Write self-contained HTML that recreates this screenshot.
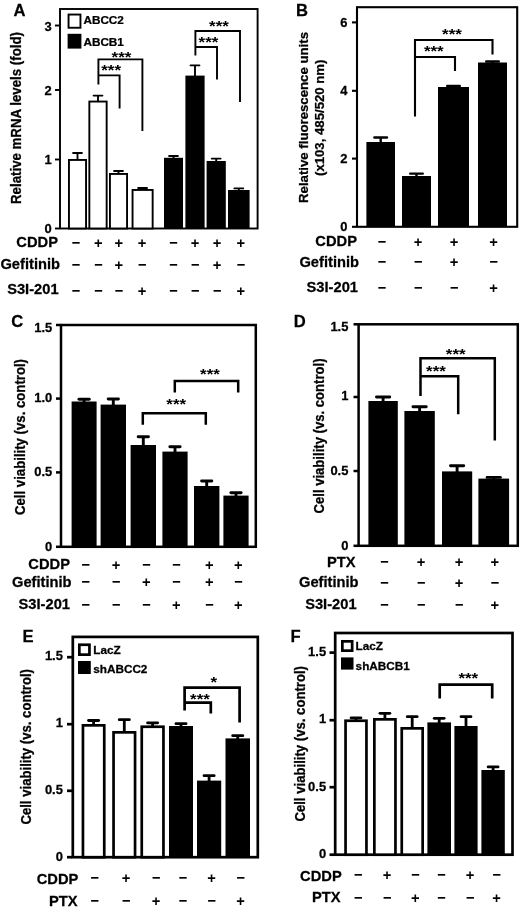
<!DOCTYPE html>
<html lang="en"><head><meta charset="utf-8"><title>Figure</title>
<style>html,body{margin:0;padding:0;background:#fff}svg{display:block}text{stroke:#000;stroke-width:.25px}text.s{stroke:none}</style></head><body>
<svg width="520" height="910" viewBox="0 0 520 910" font-family="&quot;Liberation Sans&quot;, Arial, Helvetica, sans-serif" font-weight="bold" fill="#000">
<rect width="520" height="910" fill="#fff"/>
<g id="panelA">
<text transform="translate(13.5,16) scale(0.96,1)" font-size="17.3" text-anchor="start">A</text>
<rect x="60" y="9" width="197.6" height="219.5" fill="none" stroke="#000" stroke-width="1.9"/>
<line x1="55" y1="25.5" x2="59.5" y2="25.5" stroke="#000" stroke-width="1.9"/>
<text transform="translate(51.7,30.7) scale(1.08,1)" font-size="12" text-anchor="end">3</text>
<line x1="55" y1="90" x2="59.5" y2="90" stroke="#000" stroke-width="1.9"/>
<text transform="translate(51.7,94.7) scale(1.08,1)" font-size="12" text-anchor="end">2</text>
<line x1="55" y1="159.5" x2="59.5" y2="159.5" stroke="#000" stroke-width="1.9"/>
<text transform="translate(51.7,163.7) scale(1.08,1)" font-size="12" text-anchor="end">1</text>
<line x1="55" y1="228.5" x2="59.5" y2="228.5" stroke="#000" stroke-width="1.9"/>
<text transform="translate(51.7,232.7) scale(1.08,1)" font-size="12" text-anchor="end">0</text>
<text transform="translate(21.4,118) rotate(-90) scale(1,1.1)" font-size="12.5" text-anchor="middle" textLength="172" lengthAdjust="spacingAndGlyphs">Relative mRNA levels (fold)</text>
<rect x="68.55" y="14.55" width="11.9" height="13.2" fill="#fff" stroke="#000" stroke-width="1.9"/>
<rect x="67.6" y="33.8" width="13.8" height="14.8" fill="#000"/>
<text transform="translate(83.4,23.7) scale(1.11,1)" font-size="10.6" text-anchor="start">ABCC2</text>
<text transform="translate(83.4,45.7) scale(1.11,1)" font-size="10.6" text-anchor="start">ABCB1</text>
<line x1="77.5" y1="153" x2="77.5" y2="160" stroke="#000" stroke-width="1.9"/>
<line x1="73.07" y1="153" x2="81.93" y2="153" stroke="#000" stroke-width="1.9" stroke-linecap="round"/>
<rect x="68.95" y="159.95" width="17.1" height="68.55" fill="#fff" stroke="#000" stroke-width="1.9"/>
<line x1="98" y1="95.6" x2="98" y2="101.6" stroke="#000" stroke-width="1.9"/>
<line x1="93.57" y1="95.6" x2="102.43" y2="95.6" stroke="#000" stroke-width="1.9" stroke-linecap="round"/>
<rect x="89.35" y="101.55" width="17.3" height="126.95" fill="#fff" stroke="#000" stroke-width="1.9"/>
<line x1="118.5" y1="171" x2="118.5" y2="174" stroke="#000" stroke-width="1.9"/>
<line x1="114.07" y1="171" x2="122.93" y2="171" stroke="#000" stroke-width="1.9" stroke-linecap="round"/>
<rect x="109.95" y="173.95" width="17.1" height="54.55" fill="#fff" stroke="#000" stroke-width="1.9"/>
<line x1="142.6" y1="188" x2="142.6" y2="190" stroke="#000" stroke-width="1.9"/>
<line x1="138.17" y1="188" x2="147.03" y2="188" stroke="#000" stroke-width="1.9" stroke-linecap="round"/>
<rect x="132.55" y="189.95" width="20.1" height="38.55" fill="#fff" stroke="#000" stroke-width="1.9"/>
<line x1="173.5" y1="156" x2="173.5" y2="158.8" stroke="#000" stroke-width="1.9"/>
<line x1="169.07" y1="156" x2="177.93" y2="156" stroke="#000" stroke-width="1.9" stroke-linecap="round"/>
<rect x="164" y="157.8" width="19" height="70.7" fill="#000"/>
<line x1="195" y1="65.4" x2="195" y2="76.6" stroke="#000" stroke-width="1.9"/>
<line x1="190.57" y1="65.4" x2="199.43" y2="65.4" stroke="#000" stroke-width="1.9" stroke-linecap="round"/>
<rect x="185.4" y="75.6" width="19.2" height="152.9" fill="#000"/>
<line x1="216.2" y1="158.6" x2="216.2" y2="162" stroke="#000" stroke-width="1.9"/>
<line x1="211.77" y1="158.6" x2="220.63" y2="158.6" stroke="#000" stroke-width="1.9" stroke-linecap="round"/>
<rect x="206.6" y="161" width="19.2" height="67.5" fill="#000"/>
<line x1="238.8" y1="188.4" x2="238.8" y2="191" stroke="#000" stroke-width="1.9"/>
<line x1="234.37" y1="188.4" x2="243.23" y2="188.4" stroke="#000" stroke-width="1.9" stroke-linecap="round"/>
<rect x="228" y="190" width="21.6" height="38.5" fill="#000"/>
<polyline points="98.4,84.4 98.4,59.4 142.4,59.4 142.4,131" fill="none" stroke="#000" stroke-width="1.9" stroke-linejoin="miter"/>
<text class="s" transform="translate(121.5,61.8) scale(1.11,1)" font-size="15.3" text-anchor="middle">***</text>
<polyline points="98.4,75.4 98.4,75.4 119.6,75.4 119.6,108.6" fill="none" stroke="#000" stroke-width="1.9" stroke-linejoin="miter"/>
<text class="s" transform="translate(111.1,74.6) scale(1.11,1)" font-size="15.3" text-anchor="middle">***</text>
<polyline points="195.4,55.6 195.4,31 240,31 240,102" fill="none" stroke="#000" stroke-width="1.9" stroke-linejoin="miter"/>
<text class="s" transform="translate(219,31.2) scale(1.11,1)" font-size="15.3" text-anchor="middle">***</text>
<polyline points="195.4,47 195.4,47 217,47 217,79.6" fill="none" stroke="#000" stroke-width="1.9" stroke-linejoin="miter"/>
<text class="s" transform="translate(208.5,47.2) scale(1.11,1)" font-size="15.3" text-anchor="middle">***</text>
<text transform="translate(58,247) scale(1.05,1)" font-size="14" text-anchor="end">CDDP</text>
<text class="s" transform="translate(75.8,247.75) scale(0.95,1)" font-size="15.5" text-anchor="middle">−</text>
<text class="s" transform="translate(98.2,247.75) scale(0.95,1)" font-size="15.5" text-anchor="middle">+</text>
<text class="s" transform="translate(118.8,247.75) scale(0.95,1)" font-size="15.5" text-anchor="middle">+</text>
<text class="s" transform="translate(142,247.75) scale(0.95,1)" font-size="15.5" text-anchor="middle">+</text>
<text class="s" transform="translate(173.4,247.75) scale(0.95,1)" font-size="15.5" text-anchor="middle">−</text>
<text class="s" transform="translate(195,247.75) scale(0.95,1)" font-size="15.5" text-anchor="middle">+</text>
<text class="s" transform="translate(217,247.75) scale(0.95,1)" font-size="15.5" text-anchor="middle">+</text>
<text class="s" transform="translate(240.8,247.75) scale(0.95,1)" font-size="15.5" text-anchor="middle">+</text>
<text transform="translate(60,269) scale(1.05,1)" font-size="14" text-anchor="end">Gefitinib</text>
<text class="s" transform="translate(75.8,269.95) scale(0.95,1)" font-size="15.5" text-anchor="middle">−</text>
<text class="s" transform="translate(98.2,269.95) scale(0.95,1)" font-size="15.5" text-anchor="middle">−</text>
<text class="s" transform="translate(118.8,269.95) scale(0.95,1)" font-size="15.5" text-anchor="middle">+</text>
<text class="s" transform="translate(142,269.95) scale(0.95,1)" font-size="15.5" text-anchor="middle">−</text>
<text class="s" transform="translate(173.4,269.95) scale(0.95,1)" font-size="15.5" text-anchor="middle">−</text>
<text class="s" transform="translate(195,269.95) scale(0.95,1)" font-size="15.5" text-anchor="middle">−</text>
<text class="s" transform="translate(217,269.95) scale(0.95,1)" font-size="15.5" text-anchor="middle">+</text>
<text class="s" transform="translate(240.8,269.95) scale(0.95,1)" font-size="15.5" text-anchor="middle">−</text>
<text transform="translate(58.6,294.2) scale(1.05,1)" font-size="14" text-anchor="end">S3I-201</text>
<text class="s" transform="translate(75.8,296.35) scale(0.95,1)" font-size="15.5" text-anchor="middle">−</text>
<text class="s" transform="translate(98.2,296.35) scale(0.95,1)" font-size="15.5" text-anchor="middle">−</text>
<text class="s" transform="translate(118.8,296.35) scale(0.95,1)" font-size="15.5" text-anchor="middle">−</text>
<text class="s" transform="translate(142,296.35) scale(0.95,1)" font-size="15.5" text-anchor="middle">+</text>
<text class="s" transform="translate(173.4,296.35) scale(0.95,1)" font-size="15.5" text-anchor="middle">−</text>
<text class="s" transform="translate(195,296.35) scale(0.95,1)" font-size="15.5" text-anchor="middle">−</text>
<text class="s" transform="translate(217,296.35) scale(0.95,1)" font-size="15.5" text-anchor="middle">−</text>
<text class="s" transform="translate(240.8,296.35) scale(0.95,1)" font-size="15.5" text-anchor="middle">+</text>
</g>
<g id="panelB">
<text transform="translate(296.1,15.6) scale(0.96,1)" font-size="17.3" text-anchor="start">B</text>
<rect x="357" y="7.2" width="160.2" height="219.6" fill="none" stroke="#000" stroke-width="2.1"/>
<line x1="352" y1="22.4" x2="356.5" y2="22.4" stroke="#000" stroke-width="2.1"/>
<text transform="translate(347.4,26.7) scale(1.08,1)" font-size="12" text-anchor="end">6</text>
<line x1="352" y1="90.8" x2="356.5" y2="90.8" stroke="#000" stroke-width="2.1"/>
<text transform="translate(347.4,95.3) scale(1.08,1)" font-size="12" text-anchor="end">4</text>
<line x1="352" y1="158.6" x2="356.5" y2="158.6" stroke="#000" stroke-width="2.1"/>
<text transform="translate(347.4,163.3) scale(1.08,1)" font-size="12" text-anchor="end">2</text>
<line x1="352" y1="226.8" x2="356.5" y2="226.8" stroke="#000" stroke-width="2.1"/>
<text transform="translate(347.4,231.3) scale(1.08,1)" font-size="12" text-anchor="end">0</text>
<text transform="translate(308.4,117.5) rotate(-90) scale(1,1.09)" font-size="12.5" text-anchor="middle" textLength="171" lengthAdjust="spacingAndGlyphs">Relative fluorescence units</text>
<text transform="translate(324.4,117.8) rotate(-90) scale(1,1.07)" font-size="12.5" text-anchor="middle" textLength="116.4" lengthAdjust="spacingAndGlyphs">(x103, 485/520 nm)</text>
<line x1="380.7" y1="137.5" x2="380.7" y2="143" stroke="#000" stroke-width="2.4"/>
<line x1="374.42" y1="137.5" x2="386.98" y2="137.5" stroke="#000" stroke-width="2.4" stroke-linecap="round"/>
<rect x="366.4" y="142" width="28.6" height="84.8" fill="#000"/>
<line x1="416.5" y1="173.6" x2="416.5" y2="177" stroke="#000" stroke-width="2.4"/>
<line x1="410.22" y1="173.6" x2="422.78" y2="173.6" stroke="#000" stroke-width="2.4" stroke-linecap="round"/>
<rect x="402" y="176" width="29" height="50.8" fill="#000"/>
<line x1="453.5" y1="86" x2="453.5" y2="88" stroke="#000" stroke-width="2.4"/>
<line x1="447.22" y1="86" x2="459.78" y2="86" stroke="#000" stroke-width="2.4" stroke-linecap="round"/>
<rect x="438" y="87" width="31" height="139.8" fill="#000"/>
<line x1="492.5" y1="61.5" x2="492.5" y2="63.5" stroke="#000" stroke-width="2.4"/>
<line x1="486.22" y1="61.5" x2="498.78" y2="61.5" stroke="#000" stroke-width="2.4" stroke-linecap="round"/>
<rect x="478" y="62.5" width="29" height="164.3" fill="#000"/>
<polyline points="415,116.4 415,40 492.5,40 492.5,54.4" fill="none" stroke="#000" stroke-width="2.1" stroke-linejoin="miter"/>
<text class="s" transform="translate(452,38.8) scale(1.11,1)" font-size="15.3" text-anchor="middle">***</text>
<polyline points="415,57 415,57 455,57 455,71" fill="none" stroke="#000" stroke-width="2.1" stroke-linejoin="miter"/>
<text class="s" transform="translate(433.8,56.2) scale(1.11,1)" font-size="15.3" text-anchor="middle">***</text>
<text transform="translate(357,246) scale(1.05,1)" font-size="14" text-anchor="end">CDDP</text>
<text class="s" transform="translate(381.7,246.55) scale(0.95,1)" font-size="15.5" text-anchor="middle">−</text>
<text class="s" transform="translate(418,246.55) scale(0.95,1)" font-size="15.5" text-anchor="middle">+</text>
<text class="s" transform="translate(454,246.55) scale(0.95,1)" font-size="15.5" text-anchor="middle">+</text>
<text class="s" transform="translate(493.6,246.55) scale(0.95,1)" font-size="15.5" text-anchor="middle">+</text>
<text transform="translate(359,267) scale(1.05,1)" font-size="14" text-anchor="end">Gefitinib</text>
<text class="s" transform="translate(381.7,266.55) scale(0.95,1)" font-size="15.5" text-anchor="middle">−</text>
<text class="s" transform="translate(418,266.55) scale(0.95,1)" font-size="15.5" text-anchor="middle">−</text>
<text class="s" transform="translate(454,266.55) scale(0.95,1)" font-size="15.5" text-anchor="middle">+</text>
<text class="s" transform="translate(493.6,266.55) scale(0.95,1)" font-size="15.5" text-anchor="middle">−</text>
<text transform="translate(358,292.4) scale(1.05,1)" font-size="14" text-anchor="end">S3I-201</text>
<text class="s" transform="translate(381.7,292.85) scale(0.95,1)" font-size="15.5" text-anchor="middle">−</text>
<text class="s" transform="translate(418,292.85) scale(0.95,1)" font-size="15.5" text-anchor="middle">−</text>
<text class="s" transform="translate(454,292.85) scale(0.95,1)" font-size="15.5" text-anchor="middle">−</text>
<text class="s" transform="translate(493.6,292.85) scale(0.95,1)" font-size="15.5" text-anchor="middle">+</text>
</g>
<g id="panelC">
<text transform="translate(11.3,327.2) scale(0.96,1)" font-size="17.3" text-anchor="start">C</text>
<rect x="61" y="325" width="194.8" height="221.8" fill="none" stroke="#000" stroke-width="2.5"/>
<line x1="56" y1="325" x2="60.5" y2="325" stroke="#000" stroke-width="2.5"/>
<text transform="translate(52.3,331.8) scale(1.08,1)" font-size="12" text-anchor="end">1.5</text>
<line x1="56" y1="398.6" x2="60.5" y2="398.6" stroke="#000" stroke-width="2.5"/>
<text transform="translate(52.3,401.7) scale(1.08,1)" font-size="12" text-anchor="end">1.0</text>
<line x1="56" y1="472.4" x2="60.5" y2="472.4" stroke="#000" stroke-width="2.5"/>
<text transform="translate(52.3,475.9) scale(1.08,1)" font-size="12" text-anchor="end">0.5</text>
<line x1="56" y1="546.8" x2="60.5" y2="546.8" stroke="#000" stroke-width="2.5"/>
<text transform="translate(52.3,551.3) scale(1.08,1)" font-size="12" text-anchor="end">0</text>
<text transform="translate(25,437) rotate(-90) scale(1,1.12)" font-size="12.5" text-anchor="middle" textLength="156" lengthAdjust="spacingAndGlyphs">Cell viability (vs. control)</text>
<line x1="84.1" y1="399.3" x2="84.1" y2="402.5" stroke="#000" stroke-width="2.9"/>
<line x1="78.97" y1="399.3" x2="89.23" y2="399.3" stroke="#000" stroke-width="2.9" stroke-linecap="round"/>
<rect x="71.6" y="401.5" width="25" height="145.3" fill="#000"/>
<line x1="113.3" y1="399" x2="113.3" y2="405.6" stroke="#000" stroke-width="2.9"/>
<line x1="108.17" y1="399" x2="118.43" y2="399" stroke="#000" stroke-width="2.9" stroke-linecap="round"/>
<rect x="100.6" y="404.6" width="25.4" height="142.2" fill="#000"/>
<line x1="143.3" y1="436.7" x2="143.3" y2="446" stroke="#000" stroke-width="2.9"/>
<line x1="138.17" y1="436.7" x2="148.43" y2="436.7" stroke="#000" stroke-width="2.9" stroke-linecap="round"/>
<rect x="130.6" y="445" width="25.4" height="101.8" fill="#000"/>
<line x1="175" y1="446.8" x2="175" y2="452.6" stroke="#000" stroke-width="2.9"/>
<line x1="169.87" y1="446.8" x2="180.13" y2="446.8" stroke="#000" stroke-width="2.9" stroke-linecap="round"/>
<rect x="162.4" y="451.6" width="25.2" height="95.2" fill="#000"/>
<line x1="206.7" y1="481" x2="206.7" y2="487" stroke="#000" stroke-width="2.9"/>
<line x1="201.57" y1="481" x2="211.83" y2="481" stroke="#000" stroke-width="2.9" stroke-linecap="round"/>
<rect x="194" y="486" width="25.4" height="60.8" fill="#000"/>
<line x1="236" y1="492.7" x2="236" y2="496.6" stroke="#000" stroke-width="2.9"/>
<line x1="230.87" y1="492.7" x2="241.13" y2="492.7" stroke="#000" stroke-width="2.9" stroke-linecap="round"/>
<rect x="223.4" y="495.6" width="25.2" height="51.2" fill="#000"/>
<polyline points="174.8,392.6 174.8,381 238.2,381 238.2,392.6" fill="none" stroke="#000" stroke-width="2.5" stroke-linejoin="miter"/>
<text class="s" transform="translate(210,378.8) scale(1.11,1)" font-size="15.3" text-anchor="middle">***</text>
<polyline points="142.8,424.8 142.8,413.2 205.8,413.2 205.8,424.8" fill="none" stroke="#000" stroke-width="2.5" stroke-linejoin="miter"/>
<text class="s" transform="translate(176.2,409.2) scale(1.11,1)" font-size="15.3" text-anchor="middle">***</text>
<text transform="translate(70,569) scale(1.05,1)" font-size="14" text-anchor="end">CDDP</text>
<text class="s" transform="translate(85.6,569.75) scale(0.95,1)" font-size="15.5" text-anchor="middle">−</text>
<text class="s" transform="translate(116,569.75) scale(0.95,1)" font-size="15.5" text-anchor="middle">+</text>
<text class="s" transform="translate(146.4,569.75) scale(0.95,1)" font-size="15.5" text-anchor="middle">−</text>
<text class="s" transform="translate(176.4,569.75) scale(0.95,1)" font-size="15.5" text-anchor="middle">−</text>
<text class="s" transform="translate(209.4,569.75) scale(0.95,1)" font-size="15.5" text-anchor="middle">+</text>
<text class="s" transform="translate(238.4,569.75) scale(0.95,1)" font-size="15.5" text-anchor="middle">+</text>
<text transform="translate(71.6,587) scale(1.05,1)" font-size="14" text-anchor="end">Gefitinib</text>
<text class="s" transform="translate(85.6,587.15) scale(0.95,1)" font-size="15.5" text-anchor="middle">−</text>
<text class="s" transform="translate(116,587.15) scale(0.95,1)" font-size="15.5" text-anchor="middle">−</text>
<text class="s" transform="translate(146.4,587.15) scale(0.95,1)" font-size="15.5" text-anchor="middle">+</text>
<text class="s" transform="translate(176.4,587.15) scale(0.95,1)" font-size="15.5" text-anchor="middle">−</text>
<text class="s" transform="translate(209.4,587.15) scale(0.95,1)" font-size="15.5" text-anchor="middle">+</text>
<text class="s" transform="translate(238.4,587.15) scale(0.95,1)" font-size="15.5" text-anchor="middle">−</text>
<text transform="translate(70,609.4) scale(1.05,1)" font-size="14" text-anchor="end">S3I-201</text>
<text class="s" transform="translate(85.6,610.15) scale(0.95,1)" font-size="15.5" text-anchor="middle">−</text>
<text class="s" transform="translate(116,610.15) scale(0.95,1)" font-size="15.5" text-anchor="middle">−</text>
<text class="s" transform="translate(146.4,610.15) scale(0.95,1)" font-size="15.5" text-anchor="middle">−</text>
<text class="s" transform="translate(176.4,610.15) scale(0.95,1)" font-size="15.5" text-anchor="middle">+</text>
<text class="s" transform="translate(209.4,610.15) scale(0.95,1)" font-size="15.5" text-anchor="middle">−</text>
<text class="s" transform="translate(238.4,610.15) scale(0.95,1)" font-size="15.5" text-anchor="middle">+</text>
</g>
<g id="panelD">
<text transform="translate(293.7,327) scale(0.96,1)" font-size="17.3" text-anchor="start">D</text>
<rect x="358.6" y="324.3" width="159.2" height="221.5" fill="none" stroke="#000" stroke-width="2.5"/>
<line x1="353.5" y1="324.3" x2="358" y2="324.3" stroke="#000" stroke-width="2.5"/>
<text transform="translate(348.4,330.7) scale(1.08,1)" font-size="12" text-anchor="end">1.5</text>
<line x1="353.5" y1="397" x2="358" y2="397" stroke="#000" stroke-width="2.5"/>
<text transform="translate(348.4,400.3) scale(1.08,1)" font-size="12" text-anchor="end">1</text>
<line x1="353.5" y1="471" x2="358" y2="471" stroke="#000" stroke-width="2.5"/>
<text transform="translate(348.4,474.9) scale(1.08,1)" font-size="12" text-anchor="end">0.5</text>
<line x1="353.5" y1="545.8" x2="358" y2="545.8" stroke="#000" stroke-width="2.5"/>
<text transform="translate(348.4,549.7) scale(1.08,1)" font-size="12" text-anchor="end">0</text>
<text transform="translate(323.6,436) rotate(-90) scale(1,1.12)" font-size="12.5" text-anchor="middle" textLength="155" lengthAdjust="spacingAndGlyphs">Cell viability (vs. control)</text>
<line x1="383.1" y1="397" x2="383.1" y2="402" stroke="#000" stroke-width="2.9"/>
<line x1="376.47" y1="397" x2="389.73" y2="397" stroke="#000" stroke-width="2.9" stroke-linecap="round"/>
<rect x="368.4" y="401" width="29.4" height="144.8" fill="#000"/>
<line x1="419.6" y1="406.7" x2="419.6" y2="412" stroke="#000" stroke-width="2.9"/>
<line x1="412.97" y1="406.7" x2="426.23" y2="406.7" stroke="#000" stroke-width="2.9" stroke-linecap="round"/>
<rect x="404.4" y="411" width="30.4" height="134.8" fill="#000"/>
<line x1="457.1" y1="465.8" x2="457.1" y2="472.4" stroke="#000" stroke-width="2.9"/>
<line x1="450.47" y1="465.8" x2="463.73" y2="465.8" stroke="#000" stroke-width="2.9" stroke-linecap="round"/>
<rect x="442" y="471.4" width="30.2" height="74.4" fill="#000"/>
<line x1="493.75" y1="477.4" x2="493.75" y2="479.6" stroke="#000" stroke-width="2.9"/>
<line x1="487.12" y1="477.4" x2="500.38" y2="477.4" stroke="#000" stroke-width="2.9" stroke-linecap="round"/>
<rect x="478.4" y="478.6" width="30.7" height="67.2" fill="#000"/>
<polyline points="420.5,396 420.5,358.2 494.8,358.2 494.8,440.6" fill="none" stroke="#000" stroke-width="2.5" stroke-linejoin="miter"/>
<text class="s" transform="translate(455.7,358.7) scale(1.11,1)" font-size="15.3" text-anchor="middle">***</text>
<polyline points="420.5,376.2 420.5,376.2 458.2,376.2 458.2,414.2" fill="none" stroke="#000" stroke-width="2.5" stroke-linejoin="miter"/>
<text class="s" transform="translate(436,376.2) scale(1.11,1)" font-size="15.3" text-anchor="middle">***</text>
<text transform="translate(355.6,567.4) scale(1.05,1)" font-size="14" text-anchor="end">PTX</text>
<text class="s" transform="translate(384.4,567.35) scale(0.95,1)" font-size="15.5" text-anchor="middle">−</text>
<text class="s" transform="translate(421,567.35) scale(0.95,1)" font-size="15.5" text-anchor="middle">+</text>
<text class="s" transform="translate(459,567.35) scale(0.95,1)" font-size="15.5" text-anchor="middle">+</text>
<text class="s" transform="translate(494.8,567.35) scale(0.95,1)" font-size="15.5" text-anchor="middle">+</text>
<text transform="translate(358.6,587.4) scale(1.05,1)" font-size="14" text-anchor="end">Gefitinib</text>
<text class="s" transform="translate(384.4,587.85) scale(0.95,1)" font-size="15.5" text-anchor="middle">−</text>
<text class="s" transform="translate(421,587.85) scale(0.95,1)" font-size="15.5" text-anchor="middle">−</text>
<text class="s" transform="translate(459,587.85) scale(0.95,1)" font-size="15.5" text-anchor="middle">+</text>
<text class="s" transform="translate(494.8,587.85) scale(0.95,1)" font-size="15.5" text-anchor="middle">−</text>
<text transform="translate(356.6,609) scale(1.05,1)" font-size="14" text-anchor="end">S3I-201</text>
<text class="s" transform="translate(384.4,609.55) scale(0.95,1)" font-size="15.5" text-anchor="middle">−</text>
<text class="s" transform="translate(421,609.55) scale(0.95,1)" font-size="15.5" text-anchor="middle">−</text>
<text class="s" transform="translate(459,609.55) scale(0.95,1)" font-size="15.5" text-anchor="middle">−</text>
<text class="s" transform="translate(494.8,609.55) scale(0.95,1)" font-size="15.5" text-anchor="middle">+</text>
</g>
<g id="panelE">
<text transform="translate(22.5,642) scale(0.96,1)" font-size="17.3" text-anchor="start">E</text>
<rect x="72.8" y="636.9" width="185" height="220.3" fill="none" stroke="#000" stroke-width="2.7"/>
<line x1="67" y1="657.2" x2="72" y2="657.2" stroke="#000" stroke-width="2.7"/>
<text transform="translate(62.9,659.9) scale(1.08,1)" font-size="12" text-anchor="end">1.5</text>
<line x1="67" y1="724.2" x2="72" y2="724.2" stroke="#000" stroke-width="2.7"/>
<text transform="translate(62.9,726.9) scale(1.08,1)" font-size="12" text-anchor="end">1</text>
<line x1="67" y1="790.8" x2="72" y2="790.8" stroke="#000" stroke-width="2.7"/>
<text transform="translate(62.9,793.9) scale(1.08,1)" font-size="12" text-anchor="end">0.5</text>
<line x1="67" y1="857.2" x2="72" y2="857.2" stroke="#000" stroke-width="2.7"/>
<text transform="translate(62.9,861.3) scale(1.08,1)" font-size="12" text-anchor="end">0</text>
<text transform="translate(31.1,746.8) rotate(-90) scale(1,1.12)" font-size="12.5" text-anchor="middle" textLength="155.6" lengthAdjust="spacingAndGlyphs">Cell viability (vs. control)</text>
<rect x="79.35" y="644.75" width="10.1" height="9.9" fill="#fff" stroke="#000" stroke-width="2.7"/>
<rect x="78" y="661" width="12.8" height="13" fill="#000"/>
<text transform="translate(93.2,654) scale(1.07,1)" font-size="11" text-anchor="start">LacZ</text>
<text transform="translate(93.2,673.4) scale(1.07,1)" font-size="11" text-anchor="start">shABCC2</text>
<line x1="93.6" y1="720.5" x2="93.6" y2="725" stroke="#000" stroke-width="2.8"/>
<line x1="88.54" y1="720.5" x2="98.66" y2="720.5" stroke="#000" stroke-width="2.8" stroke-linecap="round"/>
<rect x="82.95" y="725.35" width="21.3" height="131.85" fill="#fff" stroke="#000" stroke-width="2.7"/>
<line x1="124.3" y1="719.7" x2="124.3" y2="732" stroke="#000" stroke-width="2.8"/>
<line x1="119.24" y1="719.7" x2="129.36" y2="719.7" stroke="#000" stroke-width="2.8" stroke-linecap="round"/>
<rect x="113.55" y="732.35" width="21.5" height="124.85" fill="#fff" stroke="#000" stroke-width="2.7"/>
<line x1="152.6" y1="722.8" x2="152.6" y2="726.4" stroke="#000" stroke-width="2.8"/>
<line x1="147.54" y1="722.8" x2="157.66" y2="722.8" stroke="#000" stroke-width="2.8" stroke-linecap="round"/>
<rect x="141.75" y="726.75" width="21.7" height="130.45" fill="#fff" stroke="#000" stroke-width="2.7"/>
<line x1="181" y1="723.7" x2="181" y2="727" stroke="#000" stroke-width="2.8"/>
<line x1="175.94" y1="723.7" x2="186.06" y2="723.7" stroke="#000" stroke-width="2.8" stroke-linecap="round"/>
<rect x="169" y="726" width="24" height="131.2" fill="#000"/>
<line x1="209.1" y1="775.7" x2="209.1" y2="781.6" stroke="#000" stroke-width="2.8"/>
<line x1="204.04" y1="775.7" x2="214.16" y2="775.7" stroke="#000" stroke-width="2.8" stroke-linecap="round"/>
<rect x="197" y="780.6" width="24.2" height="76.6" fill="#000"/>
<line x1="237.75" y1="735.7" x2="237.75" y2="739.4" stroke="#000" stroke-width="2.8"/>
<line x1="232.69" y1="735.7" x2="242.81" y2="735.7" stroke="#000" stroke-width="2.8" stroke-linecap="round"/>
<rect x="225.5" y="738.4" width="24.5" height="118.8" fill="#000"/>
<polyline points="184.6,710.6 184.6,687.6 239.6,687.6 239.6,722.6" fill="none" stroke="#000" stroke-width="2.7" stroke-linejoin="miter"/>
<text class="s" transform="translate(213.8,686.8) scale(1.11,1)" font-size="15.3" text-anchor="middle">*</text>
<polyline points="184.6,702.6 184.6,702.6 210.8,702.6 210.8,713.6" fill="none" stroke="#000" stroke-width="2.7" stroke-linejoin="miter"/>
<text class="s" transform="translate(200,703.6) scale(1.11,1)" font-size="15.3" text-anchor="middle">***</text>
<text transform="translate(78.3,884.4) scale(1.05,1)" font-size="14" text-anchor="end">CDDP</text>
<text class="s" transform="translate(94.6,882.75) scale(0.95,1)" font-size="15.5" text-anchor="middle">−</text>
<text class="s" transform="translate(126,882.75) scale(0.95,1)" font-size="15.5" text-anchor="middle">+</text>
<text class="s" transform="translate(156,882.75) scale(0.95,1)" font-size="15.5" text-anchor="middle">−</text>
<text class="s" transform="translate(182.8,882.75) scale(0.95,1)" font-size="15.5" text-anchor="middle">−</text>
<text class="s" transform="translate(211.6,882.75) scale(0.95,1)" font-size="15.5" text-anchor="middle">+</text>
<text class="s" transform="translate(240.6,882.75) scale(0.95,1)" font-size="15.5" text-anchor="middle">−</text>
<text transform="translate(77.6,906.2) scale(1.05,1)" font-size="14" text-anchor="end">PTX</text>
<text class="s" transform="translate(94.6,905.75) scale(0.95,1)" font-size="15.5" text-anchor="middle">−</text>
<text class="s" transform="translate(126,905.75) scale(0.95,1)" font-size="15.5" text-anchor="middle">−</text>
<text class="s" transform="translate(156,905.75) scale(0.95,1)" font-size="15.5" text-anchor="middle">+</text>
<text class="s" transform="translate(182.8,905.75) scale(0.95,1)" font-size="15.5" text-anchor="middle">−</text>
<text class="s" transform="translate(211.6,905.75) scale(0.95,1)" font-size="15.5" text-anchor="middle">−</text>
<text class="s" transform="translate(240.6,905.75) scale(0.95,1)" font-size="15.5" text-anchor="middle">+</text>
</g>
<g id="panelF">
<text transform="translate(290.5,641.6) scale(0.96,1)" font-size="17.3" text-anchor="start">F</text>
<rect x="335.2" y="633" width="177.3" height="221.7" fill="none" stroke="#000" stroke-width="2.7"/>
<line x1="329.5" y1="652.6" x2="334.5" y2="652.6" stroke="#000" stroke-width="2.7"/>
<text transform="translate(326.1,656.3) scale(1.08,1)" font-size="12" text-anchor="end">1.5</text>
<line x1="329.5" y1="720.2" x2="334.5" y2="720.2" stroke="#000" stroke-width="2.7"/>
<text transform="translate(326.1,723.3) scale(1.08,1)" font-size="12" text-anchor="end">1</text>
<line x1="329.5" y1="787.2" x2="334.5" y2="787.2" stroke="#000" stroke-width="2.7"/>
<text transform="translate(326.1,790.7) scale(1.08,1)" font-size="12" text-anchor="end">0.5</text>
<line x1="329.5" y1="854.7" x2="334.5" y2="854.7" stroke="#000" stroke-width="2.7"/>
<text transform="translate(326.1,858.3) scale(1.08,1)" font-size="12" text-anchor="end">0</text>
<text transform="translate(305.4,743.8) rotate(-90) scale(1,1.12)" font-size="12.5" text-anchor="middle" textLength="155.6" lengthAdjust="spacingAndGlyphs">Cell viability (vs. control)</text>
<rect x="342.35" y="641.35" width="9.8" height="9.3" fill="#fff" stroke="#000" stroke-width="2.7"/>
<rect x="341" y="657.4" width="12.5" height="12.2" fill="#000"/>
<text transform="translate(355.6,650) scale(1.07,1)" font-size="11" text-anchor="start">LacZ</text>
<text transform="translate(355.6,669.6) scale(1.07,1)" font-size="11" text-anchor="start">shABCB1</text>
<line x1="356" y1="717.8" x2="356" y2="720.4" stroke="#000" stroke-width="2.8"/>
<line x1="351.04" y1="717.8" x2="360.96" y2="717.8" stroke="#000" stroke-width="2.8" stroke-linecap="round"/>
<rect x="345.55" y="720.75" width="20.9" height="133.95" fill="#fff" stroke="#000" stroke-width="2.7"/>
<line x1="384.9" y1="713.3" x2="384.9" y2="719" stroke="#000" stroke-width="2.8"/>
<line x1="379.94" y1="713.3" x2="389.86" y2="713.3" stroke="#000" stroke-width="2.8" stroke-linecap="round"/>
<rect x="374.35" y="719.35" width="21.1" height="135.35" fill="#fff" stroke="#000" stroke-width="2.7"/>
<line x1="412.2" y1="716.7" x2="412.2" y2="728" stroke="#000" stroke-width="2.8"/>
<line x1="407.24" y1="716.7" x2="417.16" y2="716.7" stroke="#000" stroke-width="2.8" stroke-linecap="round"/>
<rect x="401.75" y="728.35" width="20.9" height="126.35" fill="#fff" stroke="#000" stroke-width="2.7"/>
<line x1="439.2" y1="718.3" x2="439.2" y2="723.4" stroke="#000" stroke-width="2.8"/>
<line x1="434.24" y1="718.3" x2="444.16" y2="718.3" stroke="#000" stroke-width="2.8" stroke-linecap="round"/>
<rect x="427.4" y="722.4" width="23.6" height="132.3" fill="#000"/>
<line x1="466" y1="716.7" x2="466" y2="727" stroke="#000" stroke-width="2.8"/>
<line x1="461.04" y1="716.7" x2="470.96" y2="716.7" stroke="#000" stroke-width="2.8" stroke-linecap="round"/>
<rect x="454.4" y="726" width="23.2" height="128.7" fill="#000"/>
<line x1="493.1" y1="766.9" x2="493.1" y2="771" stroke="#000" stroke-width="2.8"/>
<line x1="488.14" y1="766.9" x2="498.06" y2="766.9" stroke="#000" stroke-width="2.8" stroke-linecap="round"/>
<rect x="481.4" y="770" width="23.4" height="84.7" fill="#000"/>
<polyline points="439.7,698.6 439.7,684.6 492.2,684.6 492.2,698.6" fill="none" stroke="#000" stroke-width="2.7" stroke-linejoin="miter"/>
<text class="s" transform="translate(468.3,683.2) scale(1.11,1)" font-size="15.3" text-anchor="middle">***</text>
<text transform="translate(341.7,881.4) scale(1.05,1)" font-size="14" text-anchor="end">CDDP</text>
<text class="s" transform="translate(358,879.75) scale(0.95,1)" font-size="15.5" text-anchor="middle">−</text>
<text class="s" transform="translate(387,879.75) scale(0.95,1)" font-size="15.5" text-anchor="middle">+</text>
<text class="s" transform="translate(415.4,879.75) scale(0.95,1)" font-size="15.5" text-anchor="middle">−</text>
<text class="s" transform="translate(441.4,879.75) scale(0.95,1)" font-size="15.5" text-anchor="middle">−</text>
<text class="s" transform="translate(470,879.75) scale(0.95,1)" font-size="15.5" text-anchor="middle">+</text>
<text class="s" transform="translate(496.6,879.75) scale(0.95,1)" font-size="15.5" text-anchor="middle">−</text>
<text transform="translate(340.6,902.2) scale(1.05,1)" font-size="14" text-anchor="end">PTX</text>
<text class="s" transform="translate(358,902.75) scale(0.95,1)" font-size="15.5" text-anchor="middle">−</text>
<text class="s" transform="translate(387,902.75) scale(0.95,1)" font-size="15.5" text-anchor="middle">−</text>
<text class="s" transform="translate(415.4,902.75) scale(0.95,1)" font-size="15.5" text-anchor="middle">+</text>
<text class="s" transform="translate(441.4,902.75) scale(0.95,1)" font-size="15.5" text-anchor="middle">−</text>
<text class="s" transform="translate(470,902.75) scale(0.95,1)" font-size="15.5" text-anchor="middle">−</text>
<text class="s" transform="translate(496.6,902.75) scale(0.95,1)" font-size="15.5" text-anchor="middle">+</text>
</g>
</svg></body></html>
